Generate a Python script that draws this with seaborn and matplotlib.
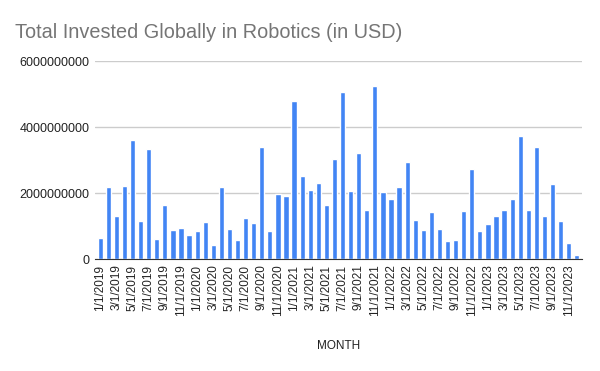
import matplotlib
matplotlib.use("Agg")
import matplotlib.pyplot as plt
import seaborn as sns
import pandas as pd

# Monthly totals, 1/1/2019 .. 12/1/2023 (values in billions of USD)
months = [f"{m}/1/{y}" for y in range(2019, 2024) for m in range(1, 13)]
invested_bn = [
    0.64, 2.18, 1.30, 2.21, 3.61, 1.15, 3.33, 0.61, 1.64, 0.88, 0.94, 0.73,
    0.85, 1.12, 0.42, 2.18, 0.91, 0.58, 1.24, 1.09, 3.39, 0.85, 1.97, 1.91,
    4.79, 2.52, 2.09, 2.30, 1.64, 3.03, 5.06, 2.06, 3.21, 1.48, 5.24, 2.03,
    1.82, 2.18, 2.94, 1.18, 0.88, 1.42, 0.91, 0.55, 0.58, 1.45, 2.73, 0.85,
    1.06, 1.30, 1.48, 1.82, 3.73, 1.48, 3.39, 1.30, 2.27, 1.15, 0.48, 0.12,
]
y_ticks = [0, 2000000000, 4000000000, 6000000000]

df = pd.DataFrame({"MONTH": months, "invested": [v * 1e9 for v in invested_bn]})

sns.set_style("white")
plt.rcParams["font.family"] = ["Liberation Sans", "DejaVu Sans"]

fig = plt.figure(figsize=(6, 3.71), dpi=100)
ax = fig.add_axes([95 / 600, 1 - 259 / 371, (582 - 95) / 600, (259 - 61) / 371])

sns.barplot(data=df, x="MONTH", y="invested", color="#4285F4", width=0.65,
            saturation=1, ax=ax, zorder=3)

ax.set_ylim(0, 6e9)
ax.set_yticks(y_ticks)
ax.set_yticklabels([str(t) for t in y_ticks], fontsize=9, color="#222222")
ax.set_xlim(-0.65, len(months) - 0.35)
ax.set_xticks(range(0, len(months), 2))
ax.set_xticklabels(months[::2], rotation=90, fontsize=8.5, color="#222222")
ax.tick_params(axis="both", length=0, pad=4)
ax.grid(axis="y", color="#cccccc", linewidth=1, zorder=0)

for s in ["top", "right", "left"]:
    ax.spines[s].set_visible(False)
ax.spines["bottom"].set_color("#333333")
ax.spines["bottom"].set_zorder(4)

ax.set_ylabel("")
ax.set_xlabel("MONTH", fontsize=8.5, color="#222222", labelpad=17)

fig.text(15 / 600, 1 - 32 / 371, "Total Invested Globally in Robotics (in USD)",
         fontsize=14.3, color="#757575", va="center", ha="left")

fig.savefig("out.png", dpi=100, facecolor="white")
